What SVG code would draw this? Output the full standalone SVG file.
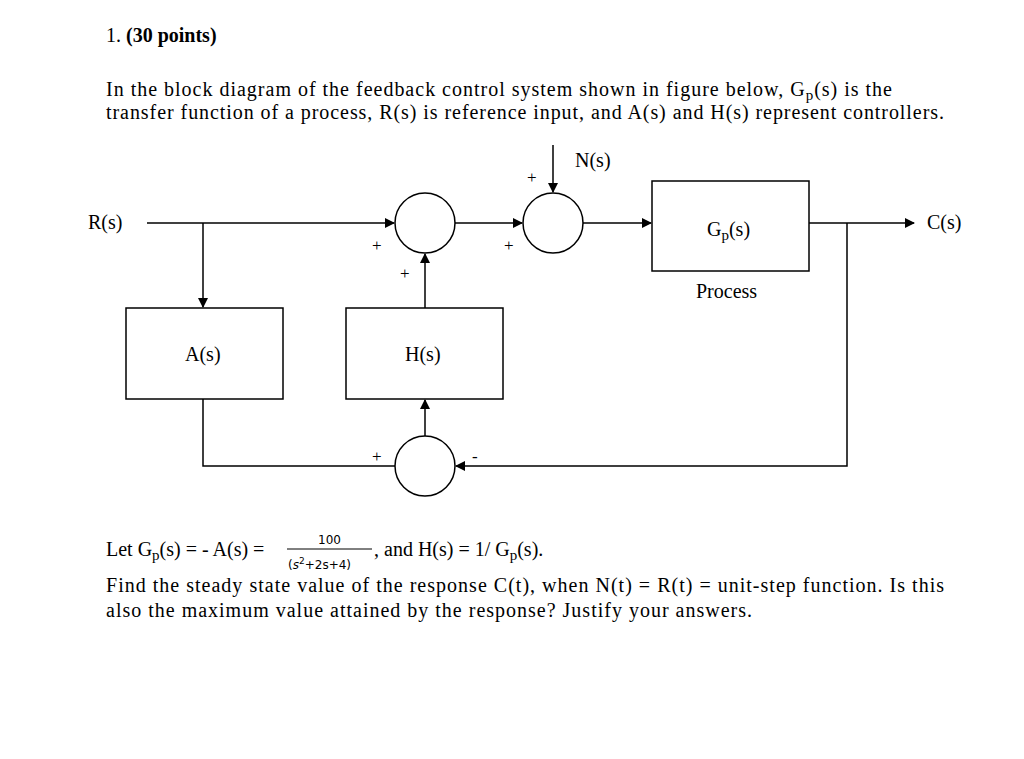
<svg xmlns="http://www.w3.org/2000/svg" width="1024" height="759" viewBox="0 0 1024 759">
<defs><marker id="ah" markerWidth="10" markerHeight="10" refX="9" refY="5" orient="auto" markerUnits="userSpaceOnUse"><path d="M0,0 L10,5 L0,10 z" fill="#000"/></marker></defs>
<style>
text{font-family:"Liberation Serif",serif;font-size:20px;fill:#000}
.s{font-size:15px}
.p{font-size:17px}
.f{font-family:"DejaVu Sans",sans-serif;font-size:12px}
rect,circle{fill:#fff;stroke:#000;stroke-width:1.5}
line,polyline{stroke:#000;stroke-width:1.5;fill:none}
</style>
<rect width="1024" height="759" fill="#fff" style="stroke:none"/>
<text x="106" y="42">1.   <tspan font-weight="bold">(30 points)</tspan></text>
<text x="106" y="96" textLength="786" lengthAdjust="spacing">In the block diagram of the feedback control system shown in figure below, G<tspan class="s" dy="4">p</tspan><tspan dy="-4">(s) is the</tspan></text>
<text x="106" y="119" textLength="838" lengthAdjust="spacing">transfer function of a process, R(s) is reference input, and A(s) and H(s) represent controllers.</text>
<g id="connectors">
<line x1="147" y1="223" x2="394" y2="223" marker-end="url(#ah)"/>
<line x1="203" y1="223" x2="203" y2="307" marker-end="url(#ah)"/>
<line x1="455" y1="223" x2="522" y2="223" marker-end="url(#ah)"/>
<line x1="553" y1="145" x2="553" y2="192" marker-end="url(#ah)"/>
<line x1="583" y1="223" x2="651" y2="223" marker-end="url(#ah)"/>
<line x1="809" y1="223" x2="914" y2="223" marker-end="url(#ah)"/>
<polyline points="847,223 847,466 456,466" marker-end="url(#ah)"/>
<polyline points="203,399 203,466 395,466"/>
<line x1="425" y1="436" x2="425" y2="400" marker-end="url(#ah)"/>
<line x1="425" y1="308" x2="425" y2="254" marker-end="url(#ah)"/>
</g>
<g id="sum1"><circle cx="425" cy="223" r="30"/></g>
<g id="sum2"><circle cx="553" cy="223" r="30"/></g>
<g id="sum3"><circle cx="425" cy="466" r="30"/></g>
<g id="gp"><rect x="652" y="181" width="157" height="90"/><text x="707" y="236">G<tspan class="s" dy="4">p</tspan><tspan dy="-4">(s)</tspan></text></g>
<g id="a"><rect x="126" y="308" width="157" height="91"/><text x="185" y="361">A(s)</text></g>
<g id="h"><rect x="346" y="308" width="157" height="91"/><text x="405" y="361">H(s)</text></g>
<text x="88" y="229">R(s)</text>
<text x="927" y="229">C(s)</text>
<text x="575" y="167">N(s)</text>
<text x="696" y="298">Process</text>
<text x="372" y="251" class="p">+</text>
<text x="504" y="251" class="p">+</text>
<text x="527" y="183" class="p">+</text>
<text x="400" y="279" class="p">+</text>
<text x="372" y="462" class="p">+</text>
<text x="472" y="462" class="p">-</text>
<text x="106" y="556">Let G<tspan class="s" dy="4">p</tspan><tspan dy="-4">(s) = - A(s) =</tspan></text>
<line x1="287" y1="549" x2="372" y2="549" style="stroke-width:1"/>
<text x="318" y="544" class="f">100</text>
<text x="288" y="569" class="f">(<tspan font-style="italic">s</tspan><tspan font-size="9" dy="-5">2</tspan><tspan dy="5">+2s+4)</tspan></text>
<text x="374" y="556">, and H(s) = 1/ G<tspan class="s" dy="4">p</tspan><tspan dy="-4">(s).</tspan></text>
<text x="106" y="592" textLength="838" lengthAdjust="spacing">Find the steady state value of the response C(t), when N(t) =  R(t) = unit-step function. Is this</text>
<text x="106" y="617" textLength="646" lengthAdjust="spacing">also the maximum value attained by the response? Justify your answers.</text>
</svg>
